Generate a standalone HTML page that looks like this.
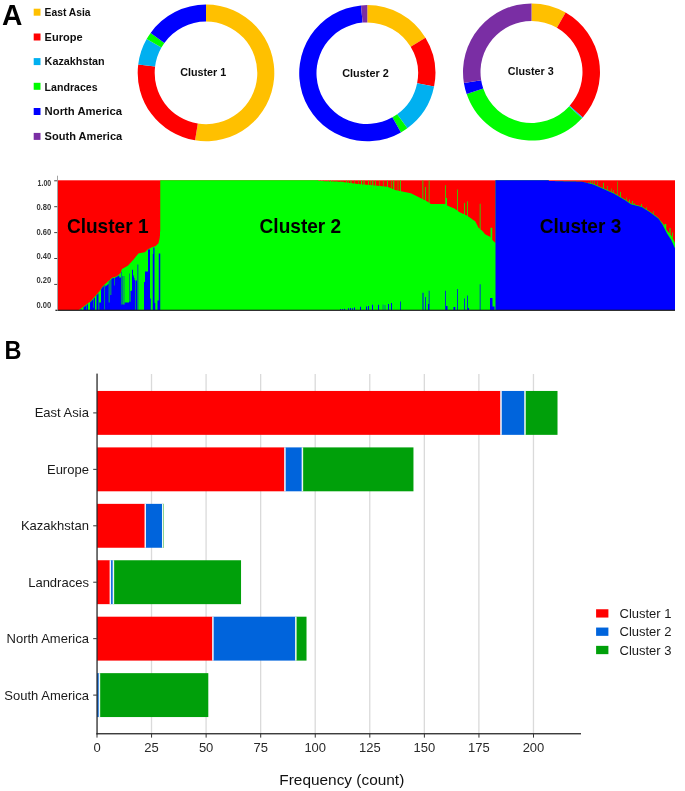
<!DOCTYPE html>
<html lang="en"><head><meta charset="utf-8"><title>Population structure clusters</title>
<style>html,body{margin:0;padding:0;background:#fff}svg{display:block}text{font-family:"Liberation Sans",sans-serif}</style></head><body>
<svg width="685" height="791" viewBox="0 0 685 791">
<rect width="685" height="791" fill="#fff"/>
<defs><filter id="b1" x="-5%" y="-5%" width="110%" height="110%"><feGaussianBlur stdDeviation="0.45"/></filter><filter id="b2" x="-5%" y="-5%" width="110%" height="110%"><feGaussianBlur stdDeviation="0.35"/></filter></defs>
<text x="2" y="24.5" font-size="30" font-weight="700" fill="#000" textLength="20.4" lengthAdjust="spacingAndGlyphs">A</text>
<text x="4.4" y="359" font-size="26" font-weight="700" fill="#000" textLength="17" lengthAdjust="spacingAndGlyphs">B</text>
<g filter="url(#b2)">
<rect x="33.7" y="8.7" width="6.8" height="7" fill="#FFC000"/>
<text x="44.6" y="16.3" font-size="11.6" font-weight="700" fill="#111" textLength="46" lengthAdjust="spacingAndGlyphs">East Asia</text>
<rect x="33.7" y="33.5" width="6.8" height="7" fill="#FF0000"/>
<text x="44.6" y="41.1" font-size="11.6" font-weight="700" fill="#111" textLength="38" lengthAdjust="spacingAndGlyphs">Europe</text>
<rect x="33.7" y="58.1" width="6.8" height="7" fill="#00B0F0"/>
<text x="44.6" y="65.3" font-size="11.6" font-weight="700" fill="#111" textLength="60" lengthAdjust="spacingAndGlyphs">Kazakhstan</text>
<rect x="33.7" y="82.8" width="6.8" height="7" fill="#00FC00"/>
<text x="44.6" y="91.1" font-size="11.6" font-weight="700" fill="#111" textLength="53" lengthAdjust="spacingAndGlyphs">Landraces</text>
<rect x="33.7" y="108.0" width="6.8" height="7" fill="#0000FF"/>
<text x="44.6" y="115.0" font-size="11.6" font-weight="700" fill="#111" textLength="77.4" lengthAdjust="spacingAndGlyphs">North America</text>
<rect x="33.7" y="132.9" width="6.8" height="7" fill="#7A2FA4"/>
<text x="44.6" y="139.5" font-size="11.6" font-weight="700" fill="#111" textLength="77.6" lengthAdjust="spacingAndGlyphs">South America</text>
</g>
<g filter="url(#b2)"><path d="M206.00 4.60A68.3 68.3 0 1 1 195.07 140.32L197.79 123.54A51.3 51.3 0 1 0 206.00 21.60Z" fill="#FFC000"/><path d="M195.07 140.32A68.3 68.3 0 0 1 138.23 64.39L155.10 66.51A51.3 51.3 0 0 0 197.79 123.54Z" fill="#FF0000"/><path d="M138.23 64.39A68.3 68.3 0 0 1 146.65 39.10L161.42 47.51A51.3 51.3 0 0 0 155.10 66.51Z" fill="#00B0F0"/><path d="M146.65 39.10A68.3 68.3 0 0 1 150.60 32.95L164.39 42.89A51.3 51.3 0 0 0 161.42 47.51Z" fill="#00FC00"/><path d="M150.60 32.95A68.3 68.3 0 0 1 206.00 4.60L206.00 21.60A51.3 51.3 0 0 0 164.39 42.89Z" fill="#0000FF"/><text x="203.2" y="75.8" font-size="11.5" font-weight="700" fill="#111" text-anchor="middle" textLength="46" lengthAdjust="spacingAndGlyphs">Cluster 1</text></g>
<g filter="url(#b2)"><path d="M367.30 5.10A68.1 68.1 0 0 1 425.47 37.79L410.69 46.78A50.8 50.8 0 0 0 367.30 22.40Z" fill="#FFC000"/><path d="M425.47 37.79A68.1 68.1 0 0 1 434.07 86.58L417.11 83.18A50.8 50.8 0 0 0 410.69 46.78Z" fill="#FF0000"/><path d="M434.07 86.58A68.1 68.1 0 0 1 407.33 128.29L397.16 114.30A50.8 50.8 0 0 0 417.11 83.18Z" fill="#00B0F0"/><path d="M407.33 128.29A68.1 68.1 0 0 1 400.94 132.41L392.39 117.37A50.8 50.8 0 0 0 397.16 114.30Z" fill="#00FC00"/><path d="M400.94 132.41A68.1 68.1 0 1 1 360.97 5.39L362.58 22.62A50.8 50.8 0 1 0 392.39 117.37Z" fill="#0000FF"/><path d="M360.97 5.39A68.1 68.1 0 0 1 367.30 5.10L367.30 22.40A50.8 50.8 0 0 0 362.58 22.62Z" fill="#7A2FA4"/><text x="365.5" y="76.9" font-size="11.5" font-weight="700" fill="#111" text-anchor="middle" textLength="46.5" lengthAdjust="spacingAndGlyphs">Cluster 2</text></g>
<g filter="url(#b2)"><path d="M531.50 3.50A68.5 68.5 0 0 1 565.65 12.62L556.92 27.79A51.0 51.0 0 0 0 531.50 21.00Z" fill="#FFC000"/><path d="M565.65 12.62A68.5 68.5 0 0 1 582.75 117.44L569.66 105.83A51.0 51.0 0 0 0 556.92 27.79Z" fill="#FF0000"/><path d="M582.75 117.44A68.5 68.5 0 0 1 581.96 118.33L569.07 106.49A51.0 51.0 0 0 0 569.66 105.83Z" fill="#00B0F0"/><path d="M581.96 118.33A68.5 68.5 0 0 1 466.67 94.12L483.23 88.47A51.0 51.0 0 0 0 569.07 106.49Z" fill="#00FC00"/><path d="M466.67 94.12A68.5 68.5 0 0 1 463.89 83.03L481.17 80.21A51.0 51.0 0 0 0 483.23 88.47Z" fill="#0000FF"/><path d="M463.89 83.03A68.5 68.5 0 0 1 531.50 3.50L531.50 21.00A51.0 51.0 0 0 0 481.17 80.21Z" fill="#7A2FA4"/><text x="530.7" y="75.3" font-size="11.5" font-weight="700" fill="#111" text-anchor="middle" textLength="46" lengthAdjust="spacingAndGlyphs">Cluster 3</text></g>
<g filter="url(#b1)">
<rect x="58" y="180.3" width="617" height="129.7" fill="#FF0000"/>
<path d="M58 310.0V310H79V309.8H79.25V309.6H79.5V309.5H79.75V309.3H80V309.1H80.25V308.9H80.5V308.7H80.75V308.5H81V308.3H81.25V308.2H81.5V308H81.75V307.8H82V307.6H82.25V307.4H82.5V307.2H82.75V307H83V306.9H83.25V306.7H83.5V306.5H83.75V306.3H84V306.1H84.25V305.9H84.5V305.7H84.75V305.6H85V305.4H85.25V305.2H85.5V305H85.75V304.8H86V304.6H86.25V304.4H86.5V304.3H86.75V304.1H87V303.9H87.25V303.7H87.5V303.5H87.75V303.3H88V303.1H88.25V303H88.5V302.8H88.75V302.6H89V302.4H89.25V302.2H89.5V302H89.75V301.8H90V301.7H90.25V301.5H90.5V301.3H90.75V301H91V300.7H91.25V300.4H91.5V300.1H91.75V299.9H92V299.6H92.25V299.3H92.5V299H92.75V298.7H93V298.5H93.25V298.2H93.5V297.9H93.75V297.6H94V297.3H94.25V297.1H94.5V296.8H94.75V296.5H95V296.2H95.25V295.9H95.5V295.6H95.75V295.4H96V295.1H96.25V294.8H96.5V294.5H96.75V294.2H97V294H97.25V293.7H97.5V293.4H97.75V293.1H98V292.8H98.25V292.6H98.5V292.3H98.75V292H99V291.7H99.25V291.4H99.5V291H99.75V290.6H100V290.2H100.25V289.8H100.5V289.4H100.75V289H101V288.6H101.25V288.2H101.5V287.8H101.75V287.4H102V287H102.25V286.6H102.5V286.4H102.75V286.2H103V285.9H103.25V285.7H103.5V285.5H103.75V285.2H104V285H104.25V284.8H104.5V284.5H104.75V284.3H105V284.1H105.25V283.8H105.5V283.6H105.75V283.4H106V283.2H106.25V282.9H106.5V282.7H106.75V282.5H107V282.2H107.25V282H107.5V281.8H107.75V281.6H108V281.3H108.25V281.1H108.5V280.9H108.75V280.6H109V280.4H109.25V280.2H109.5V280H109.75V279.7H110V279.5H110.25V279.3H110.5V279H110.75V278.8H111V278.6H111.25V278.4H111.5V278.1H111.75V277.9H112V277.7H112.25V277.6H112.5V277.5H112.75V277.4H113.25V277.3H113.5V277.2H114V277.1H114.25V277H114.75V276.9H115V276.8H115.5V276.7H115.75V276.6H116V276.5H116.25V276.4H116.5V276.2H116.75V276H117V275.9H117.25V275.7H117.5V275.6H117.75V275.4H118V275.2H118.25V275.1H118.5V274.9H118.75V274.6H119V274.4H119.25V274.1H119.5V273.9H119.75V273.6H120V273.4H120.25V273.1H120.5V272.7H120.75V272H121V271.3H121.25V270.7H121.5V270H121.75V269.3H122V268.9H122.25V268.8H122.5V268.6H122.75V268.5H123V268.4H123.25V268.2H123.5V268.1H123.75V267.9H124V267.8H124.25V267.7H124.5V267.5H124.75V267.4H125V267.2H125.25V267.1H125.5V266.9H125.75V266.8H126V266.7H126.25V266.5H126.5V266.4H126.75V266.2H127V266.1H127.25V266H127.5V265.8H127.75V265.7H128V265.5H128.25V265.2H128.5V264.9H128.75V264.6H129V264.4H129.25V264.1H129.5V263.8H129.75V263.5H130V263.3H130.25V263H130.5V262.7H130.75V262.4H131V262.2H131.25V261.9H131.5V261.6H131.75V261.3H132V261H132.25V260.8H132.5V260.5H132.75V260.2H133V259.9H133.25V259.7H133.5V259.4H133.75V259.1H134V258.8H134.25V258.5H134.5V258.2H134.75V257.9H135V257.6H135.25V257.3H135.5V256.9H135.75V256.6H136V256.3H136.25V256H136.5V255.7H136.75V255.4H137V255.1H137.25V254.8H137.5V254.5H137.75V254.2H138V253.9H138.25V253.6H138.5V253.4H138.75V253.3H139.25V253.2H139.75V253.1H140.25V253H141V252.9H141.5V252.8H142V252.7H142.5V252.6H143V252.5H143.5V252.4H144V252.3H144.75V252.2H145V252H145.25V251.7H145.5V251.5H145.75V251.3H146V251H146.25V250.8H146.5V250.5H146.75V250.3H147V250H147.25V249.8H147.5V249.6H147.75V249.3H148V249.2H148.25V249.1H148.5V248.9H148.75V248.8H149V248.7H149.25V248.5H149.5V248.4H149.75V248.3H150V248.2H150.25V248H150.5V247.9H150.75V247.8H151V247.6H151.25V247.5H151.5V247.4H151.75V247.3H152V247.2H152.5V247.1H152.75V247H153V246.9H153.25V246.8H153.5V246.7H153.75V246.6H154V246.5H154.5V246.4H154.75V246.3H155V246.2H155.25V246.1H155.5V245.9H155.75V245.7H156V245.4H156.25V245.2H156.5V245H156.75V244.8H157V244.5H157.25V244.3H157.5V244.1H157.75V243.9H158V243.6H158.25V243.4H158.5V242.5H158.75V241.4H159V240.4H159.25V239.4H159.5V238.3H159.75V236.2H160V231.4H160.25V180.3H318V180.4H318.25V180.6H318.5V180.7H318.75V180.9H319V181H320V180.6H320.75V181.1H322.75V180.6H323.5V181.2H326V181.3H328V180.6H328.5V181.3H328.75V181.4H330V180.6H331V181.4H331.25V181.5H332.5V180.6H333.25V181.5H334V181.6H336.75V180.6H337.25V181.7H339.5V181.8H340.75V180.6H341.25V181.8H341.5V181.9H342.25V182H342.75V180.6H343.25V182.1H343.75V182.2H344.5V182.3H345.25V182.4H346V182.5H346.25V180.6H347V182.6H347.5V182.7H348.25V182.8H348.5V180.6H349V182.9H350V183H350.5V180.6H351.5V183.2H352.25V183.3H353V183.4H353.75V183.5H354.5V180.6H355V183.6H355.25V183.7H356V183.8H356.75V183.9H357.5V184H358.5V180.6H359V184.1H359.75V184.2H361V180.6H362V184.4H363.25V184.5H363.5V180.6H364.5V184.6H365.5V184.7H366.75V184.8H367.75V184.9H368V180.6H368.75V184.9H369V185H370V185.1H370.25V180.6H370.75V185.1H371.25V185.2H372.25V180.6H373.25V185.3H373.5V185.4H374.5V185.5H375.25V180.6H376V185.6H376.5V185.7H377.5V185.8H378.25V185.9H379V180.6H379.5V186H380.25V186.1H381.25V186.2H382.25V186.3H383V180.6H383.5V186.4H384.25V186.5H385.25V186.6H386.25V186.7H387V180.6H387.75V186.9H388V187H388.25V187.1H388.5V187.2H388.75V187.4H389V187.5H389.25V187.6H389.5V187.7H389.75V187.8H390V187.9H390.25V188H390.5V188.1H390.75V188.2H391V188.3H391.25V180.6H391.75V188.6H392V188.8H392.25V188.9H392.5V189H392.75V189.1H393V189.2H393.25V180.6H394.25V189.7H394.5V189.8H394.75V189.9H395V190H395.25V190.1H395.75V190.2H396.25V190.3H396.75V190.4H397.25V190.5H397.75V180.6H398.25V190.7H398.75V190.8H399V190.9H399.5V191H400V191.1H400.25V180.3H401V191.3H401.5V191.4H402V191.5H402.5V191.6H403V191.7H403.5V191.8H404V191.9H404.5V192H405V192.1H405.5V192.2H406V192.3H406.5V192.4H407V192.5H407.25V192.6H407.75V192.7H408.25V192.8H408.75V192.9H409.25V193H409.75V193.1H410.25V193.2H410.75V193.3H411V193.4H411.25V193.5H411.5V193.6H411.75V193.7H412V193.9H412.25V194H412.5V194.1H412.75V194.2H413V194.4H413.25V194.5H413.5V194.6H413.75V194.7H414V194.9H414.25V195H414.5V195.1H414.75V195.2H415V195.4H415.25V195.5H415.5V195.6H415.75V195.7H416V195.9H416.25V196H416.5V196.1H416.75V196.2H417V196.4H417.25V196.5H417.5V196.6H417.75V196.7H418V196.9H418.25V197H418.5V197.1H418.75V197.2H419V197.4H419.25V197.5H419.5V197.6H419.75V197.7H420V197.9H420.25V198H420.5V198.1H420.75V198.2H421V198.4H421.25V198.5H421.5V198.6H421.75V198.7H422V198.9H422.25V199H422.5V180.3H423.25V199.5H423.5V199.6H423.75V199.7H424V199.9H424.25V200H424.5V200.1H424.75V200.2H425V186.9H425.75V200.7H426V200.9H426.25V201H426.5V201.1H426.75V201.2H427V201.4H427.25V201.6H427.5V201.7H427.75V201.9H428V202.1H428.25V202.2H428.5V202.4H428.75V180.6H429.5V203.1H429.75V203.2H430V203.4H430.25V203.6H430.5V203.7H430.75V203.9H431V204H445V204.2H445.25V185.3H446V198H447V205.5H447.25V205.6H447.5V205.8H447.75V205.9H448V206H448.25V206.1H448.5V206.2H448.75V206.3H449V206.4H449.25V206.5H449.5V206.6H449.75V206.7H450V206.8H450.25V206.9H450.5V207H450.75V207.1H451V207.2H451.25V207.3H451.5V207.4H451.75V207.5H452V207.6H452.25V207.7H452.5V207.8H452.75V207.9H453V208H453.25V208.1H453.5V208.2H453.75V208.3H454V208.4H454.25V208.5H454.5V208.7H454.75V208.8H455V209H455.25V209.2H455.5V209.4H455.75V209.6H456V209.8H456.25V209.9H456.5V210.1H456.75V210.3H457V189.6H457.75V211H458V211.2H458.25V211.4H458.5V211.6H458.75V211.8H459V211.9H459.25V212.1H459.5V212.2H459.75V212.3H460V212.4H460.25V212.6H460.5V212.7H460.75V212.8H461V212.9H461.25V213H461.5V213.1H461.75V213.3H462V213.4H462.25V213.5H462.5V213.6H462.75V213.7H463V213.8H463.25V214H463.5V214.1H463.75V214.2H464V214.3H464.25V203H465V214.8H465.25V214.9H465.5V215H465.75V215.1H466V215.2H466.25V215.4H466.5V215.5H466.75V215.6H467V215.7H467.25V201.3H468V216.4H468.25V216.6H468.5V216.7H468.75V216.9H469V217.1H469.25V217.3H469.5V217.4H469.75V217.6H470V217.8H470.25V218H470.5V218.1H470.75V218.3H471V218.5H471.25V218.7H471.5V218.8H471.75V219H472V219.2H472.25V219.4H472.5V219.5H472.75V219.7H473V219.9H473.25V220.1H473.5V220.2H473.75V220.4H474V220.6H474.25V220.8H474.5V220.9H474.75V221.1H475V221.3H475.25V221.5H475.5V222H475.75V222.5H476V223H476.25V223.5H476.5V224H476.75V224.5H477V225.1H477.25V225.6H477.5V226.1H477.75V226.6H478V227.1H478.25V227.6H478.5V227.9H478.75V228.1H479V228.3H479.25V228.5H479.5V228.7H479.75V203.7H480.5V229.5H480.75V229.7H481V229.9H481.25V230.1H481.5V230.3H481.75V230.5H482V230.7H482.25V230.9H482.5V231.2H482.75V231.5H483V231.8H483.25V232.1H483.5V232.4H483.75V232.8H484V233.1H484.25V233.4H484.5V233.7H484.75V234H485V234.3H485.25V234.4H485.5V234.5H485.75V234.6H486V234.8H486.25V234.9H486.5V235H486.75V235.2H487V235.3H487.25V235.4H487.5V235.5H487.75V235.7H488V235.8H488.25V235.9H488.5V236.1H488.75V236.2H489V236.3H489.25V236.4H489.5V236.6H489.75V236.8H490V237.1H490.25V237.4H490.5V227.8H492.25V239.9H492.5V240.2H492.75V240.5H493V240.8H493.25V241H493.5V241.3H493.75V241.5H494V241.7H494.25V242H494.5V242.2H494.75V242.4H495V242.7H495.25V242.9H495.5V180.3H548.5V180.5H548.75V180.8H549V181H551V181.1H555.25V181.2H559.5V181.3H563.5V181.4H567.75V181.5H572V181.6H576V181.7H580.25V181.8H582.5V181.9H583V182H583.25V182.1H583.75V182.2H584.25V182.3H584.5V182.4H585V182.5H585.5V182.6H585.75V182.7H586.25V182.8H586.5V182.9H587V183H587.5V183.1H587.75V183.2H588V182.5H588.25V182.6H588.75V182.7H589V182.8H589.5V182.9H590V181H590.5V183.1H590.75V183.2H591.25V183.3H591.5V183.4H592V181H592.5V183.6H592.75V183.7H593V183.8H593.25V183.9H593.5V184H593.75V184.1H594V184.2H594.25V184.3H594.5V181H595V184.6H595.25V184.7H595.5V184.9H595.75V185H596V185.1H596.25V185.2H596.5V185.3H596.75V185.4H597V181.2H597.5V185.7H597.75V185.8H598V185.9H598.25V186.1H598.5V186.2H598.75V186.3H599V186.4H599.25V186.5H599.5V186.6H599.75V186.7H600V186.8H600.25V186.9H600.5V187H600.75V187.2H601V187.3H601.25V187.4H601.5V187.5H601.75V187.6H602V187.7H602.25V187.8H602.5V187.9H602.75V188H603V182.7H603.75V188.5H604V188.6H604.25V188.7H604.5V188.8H604.75V188.9H605V189H605.25V189.1H605.5V189.3H605.75V189.4H606V189.5H606.25V189.6H606.5V189.7H606.75V189.8H607V186H607.5V190.1H607.75V190.3H608V190.4H608.25V190.5H608.5V190.6H608.75V190.7H609V190.8H609.25V190.9H609.5V191H609.75V191.2H610V191.3H610.25V191.4H610.5V191.5H610.75V191.6H611V188.5H611.5V191.9H611.75V192H612V192.2H612.25V192.3H612.5V192.4H612.75V192.5H613V192.6H613.25V192.7H613.5V190H614V193.1H614.25V193.2H614.5V193.4H614.75V193.5H615V193.7H615.25V193.8H615.5V194H615.75V194.1H616V194.3H616.25V194.4H616.5V194.5H616.75V194.7H617V181.6H617.5V195.1H617.75V195.3H618V195.4H618.25V195.6H618.5V195.7H618.75V195.9H619V196H619.25V196.2H619.5V196.3H619.75V196.5H620V192H620.75V197H621V197.2H621.25V197.3H621.5V197.5H621.75V197.6H622V197.8H622.25V197.9H622.5V198.1H622.75V198.2H623V198.4H623.25V198.5H623.5V198.7H623.75V198.8H624V199H624.25V199.1H624.5V199.3H624.75V199.4H625V199.6H625.25V199.8H625.5V199.9H625.75V200.1H626V197.5H626.5V200.6H626.75V200.8H627V201H627.25V201.1H627.5V201.3H627.75V201.5H628V201.6H628.25V201.8H628.5V202H628.75V202.1H629V199.5H629.75V202.8H630V203H630.25V203.2H630.5V203.3H630.75V203.5H631V203.6H631.25V203.7H631.5V203.8H632V201H632.75V204.1H633.25V204.2H633.5V204.3H634V204.4H634.25V204.5H634.5V203H635V204.7H635.5V204.8H636V204.9H636.25V205H636.75V205.1H637V205.2H637.5V205.3H637.75V205.4H638.25V205.5H638.75V205.6H639V205.7H639.5V205.8H639.75V205.9H640.25V206H640.5V206.1H641V204H641.75V206.5H642V206.6H642.25V206.8H642.5V206.9H642.75V207.1H643V207.3H643.25V207.4H643.5V207.6H643.75V207.7H644V207.9H644.25V208.1H644.5V208.2H644.75V208.4H645V208.5H645.25V208.7H645.5V208.8H645.75V209H646V207H646.5V209.5H646.75V209.6H647V209.8H647.25V209.9H647.5V210.1H647.75V210.3H648V210.4H648.25V210.6H648.5V210.7H648.75V210.9H649V211H649.25V211.2H649.5V211.4H649.75V211.5H650V211.7H650.25V211.9H650.5V212.1H650.75V212.3H651V212.4H651.25V212.6H651.5V212.8H651.75V213H652V213.2H652.25V213.4H652.5V213.6H652.75V213.8H653V211H653.5V214.3H653.75V214.5H654V214.7H654.25V214.9H654.5V215.1H654.75V215.3H655V215.5H655.25V215.6H655.5V215.8H655.75V216H656V216.2H656.25V216.4H656.5V216.6H656.75V216.8H657V217H657.25V217.2H657.5V217.3H657.75V217.5H658V217.7H658.25V217.9H658.5V218.2H658.75V218.5H659V218.9H659.25V219.3H659.5V219.6H659.75V220H660V220.3H660.25V220.6H660.5V220.9H660.75V221.2H661V221.5H661.25V221.8H661.5V222H661.75V222.3H662V222.6H662.25V222.9H662.5V223.2H662.75V223.5H663V223.9H663.25V224.3H663.5V224.8H663.75V225.2H664V225.6H664.25V226H664.5V224H666.25V229.4H666.5V229.8H666.75V230.3H667V230.6H667.25V230.9H667.5V231.2H667.75V231.5H668V231.8H668.25V232.1H668.5V232.4H668.75V232.7H669V233H669.25V233.3H669.5V228H670.5V234.8H670.75V235.1H671V235.4H671.25V235.8H671.5V236.3H671.75V236.7H672V232.4H672.75V238.6H673V239.1H673.25V239.5H673.5V240H673.75V240.5H674V241H674.25V241.4H674.5V241.9H674.75V242.4H675V310.0Z" fill="#00FF00"/>
<path d="M58 310.0V310H80V309.9H80.25V309.7H80.5V309.5H80.75V309.3H81V309.1H81.25V309H81.5V310H83V309.9H83.25V309.7H83.5V307.3H83.75V307.1H84V306.9H84.25V306.7H84.5V306.5H84.75V306.4H85V306.2H85.25V306H85.5V305.8H85.75V305.6H86V305.4H86.25V310H86.75V304.9H87V304.7H87.25V304.5H87.5V304.3H87.75V304.1H88V310H90V302.5H90.25V302.3H90.5V302.1H90.75V301.8H91V301.5H91.25V301.2H91.5V300.9H91.75V300.7H92V300.4H92.25V300.1H92.5V299.8H92.75V299.5H93V299.3H93.25V307.7H93.75V298.4H94V298.1H94.25V297.9H94.5V297.6H94.75V297.3H95V310H96.5V295.3H96.75V295H97V294.8H97.25V294.5H97.5V294.2H97.75V293.9H98V293.6H98.25V293.4H98.5V310H99.25V302.5H101V289.4H101.25V289H101.5V288.6H101.75V288.2H102V287.8H102.25V287.4H102.5V287.2H102.75V287H103V286.7H103.25V286.5H103.5V286.3H103.75V286H104V309.5H104.5V285.3H104.75V285.1H105V284.9H105.25V286.6H105.5V286.4H105.75V286.2H106V286H106.25V285.7H106.5V285.5H106.75V285.3H107V285H107.25V284.8H107.5V284.6H107.75V284.4H108V284.1H108.25V283.9H108.5V281.7H108.75V302.5H109.5V280.8H109.75V280.5H110V280.3H110.25V280.1H110.5V294.9H111.25V279.2H111.5V278.9H111.75V278.7H112V278.5H112.25V278.4H112.5V278.3H112.75V278.2H113.25V278.1H113.5V278H114V277.9H114.25V285.5H114.75V277.7H115V277.6H115.5V277.5H115.75V277.4H116V277.3H116.25V277.2H116.5V277H116.75V276.8H117V276.7H117.25V276.5H117.5V276.4H117.75V276.2H118V276H118.25V275.9H118.5V275.7H118.75V275.4H119V275.2H119.25V277.5H121V272.1H121.25V271.5H121.5V304.4H122.5V276H123V304.4H123.75V276H124.25V304.4H124.75V302.5H129V301.8H129.5V273.6H130V301.8H130.5V290.9H131.75V290H132V269.7H133V275H133.5V276.5H134V278H134.5V280H135V280.6H135.5V310H136V280.6H137V310H137.5V264.6H138.25V310H144V282H145V271.6H148V249.6H150V298.6H150.75V310H152.75V254H153.25V247.5H154.5V303H155.25V310H157.5V300.5H158.75V253.4H160.25V310H340V309H341V310H342V309H343V310H344V308.8H345V310H348V308.3H349V310H350V308H351V310H352V308.3H353V310H354V307.5H355V310H360V306.7H361V310H366V306.5H367V310H368V306H369V310H372V304.8H373V310H378V304.8H379V310H382.75V304.5H383.25V310H384.75V305H385.25V310H388V304H389V310H391V302.9H392V310H400.25V301.6H401V310H422.5V292.7H423.5V310H425V297H425.75V310H428V304H428.75V290.7H429.5V310H445.25V290.7H446V306H447.5V310H453.5V307H455.25V310H457V289H457.75V310H464.25V298.4H465V310H467.25V295.5H468V308H469V310H479.75V284.2H480.5V310H490V298H492.5V306.4H494.5V310H495.5V180.3H548.5V180.5H548.75V180.8H549V181H551V181.1H555.25V181.2H559.5V181.3H563.5V181.4H567.75V181.5H572V181.6H576V181.7H580.25V181.8H582.5V181.9H583V182H583.25V182.1H583.75V182.2H584.25V182.3H584.5V182.4H585V182.5H585.5V182.6H585.75V182.7H586.25V182.8H586.5V182.9H587V183H587.5V183.1H587.75V183.2H588.25V183.3H588.75V183.4H589V183.5H589.5V183.6H590V183.7H590.25V183.8H590.75V183.9H591.25V184H591.5V184.1H592V184.2H592.5V184.3H592.75V184.4H593V184.5H593.25V184.6H593.5V184.7H593.75V184.8H594V184.9H594.25V185H594.5V185.1H594.75V185.2H595V185.3H595.25V185.4H595.5V185.6H595.75V185.7H596V185.8H596.25V185.9H596.5V186H596.75V186.1H597V186.2H597.25V186.3H597.5V186.4H597.75V186.5H598V186.6H598.25V186.8H598.5V186.9H598.75V187H599V187.1H599.25V187.2H599.5V187.3H599.75V187.4H600V187.5H600.25V187.6H600.5V187.7H600.75V187.8H601V188H601.25V188.1H601.5V188.2H601.75V188.3H602V188.4H602.25V188.5H602.5V188.6H602.75V188.7H603V188.8H603.25V188.9H603.5V189.1H603.75V189.2H604V189.3H604.25V189.4H604.5V189.5H604.75V189.6H605V189.7H605.25V189.8H605.5V190H605.75V190.1H606V190.2H606.25V190.3H606.5V190.4H606.75V190.5H607V190.6H607.25V190.7H607.5V190.8H607.75V191H608V191.1H608.25V191.2H608.5V191.3H608.75V191.4H609V191.5H609.25V191.6H609.5V191.7H609.75V191.9H610V192H610.25V192.1H610.5V192.2H610.75V192.3H611V192.4H611.25V192.5H611.5V192.6H611.75V192.7H612V192.9H612.25V193H612.5V193.1H612.75V193.2H613V193.3H613.25V193.4H613.5V193.5H613.75V193.6H614V193.8H614.25V193.9H614.5V194.1H614.75V194.2H615V194.4H615.25V194.5H615.5V194.7H615.75V194.8H616V195H616.25V195.1H616.5V195.2H616.75V195.4H617V195.5H617.25V195.7H617.5V195.8H617.75V196H618V196.1H618.25V196.3H618.5V196.4H618.75V196.6H619V196.7H619.25V196.9H619.5V197H619.75V197.2H620V197.3H620.25V197.5H620.5V197.6H620.75V197.7H621V197.9H621.25V198H621.5V198.2H621.75V198.3H622V198.5H622.25V198.6H622.5V198.8H622.75V198.9H623V199.1H623.25V199.2H623.5V199.4H623.75V199.5H624V199.7H624.25V199.8H624.5V200H624.75V200.1H625V200.3H625.25V200.5H625.5V200.6H625.75V200.8H626V201H626.25V201.1H626.5V201.3H626.75V201.5H627V201.7H627.25V201.8H627.5V202H627.75V202.2H628V202.3H628.25V202.5H628.5V202.7H628.75V202.8H629V203H629.25V203.2H629.5V203.4H629.75V203.5H630V203.7H630.25V203.9H630.5V204H630.75V204.2H631V204.3H631.25V204.4H631.5V204.5H632V204.6H632.25V204.7H632.75V204.8H633.25V204.9H633.5V205H634V205.1H634.25V205.2H634.75V205.3H635V205.4H635.5V205.5H636V205.6H636.25V205.7H636.75V205.8H637V205.9H637.5V206H637.75V206.1H638.25V206.2H638.75V206.3H639V206.4H639.5V206.5H639.75V206.6H640.25V206.7H640.5V206.8H641V206.9H641.5V207H641.75V207.2H642V207.3H642.25V207.5H642.5V207.6H642.75V207.8H643V208H643.25V208.1H643.5V208.3H643.75V208.4H644V208.6H644.25V208.8H644.5V208.9H644.75V209.1H645V209.2H645.25V209.4H645.5V209.5H645.75V209.7H646V209.9H646.25V210H646.5V210.2H646.75V210.3H647V210.5H647.25V210.6H647.5V210.8H647.75V211H648V211.1H648.25V211.3H648.5V211.4H648.75V211.6H649V211.7H649.25V211.9H649.5V212.1H649.75V212.2H650V212.4H650.25V212.6H650.5V212.8H650.75V213H651V213.1H651.25V213.3H651.5V213.5H651.75V213.7H652V213.9H652.25V214.1H652.5V214.3H652.75V214.5H653V214.7H653.25V214.8H653.5V215H653.75V215.2H654V215.4H654.25V215.6H654.5V215.8H654.75V216H655V216.2H655.25V216.3H655.5V216.5H655.75V216.7H656V216.9H656.25V217.1H656.5V217.3H656.75V217.5H657V217.7H657.25V217.9H657.5V218H657.75V218.2H658V218.4H658.25V218.6H658.5V218.9H658.75V219.2H659V219.6H659.25V220H659.5V220.3H659.75V220.7H660V221.1H660.25V221.4H660.5V221.8H660.75V222.2H661V222.5H661.25V222.9H661.5V223.3H661.75V223.6H662V224H662.25V224.4H662.5V224.7H662.75V225.2H663V225.7H663.25V226.2H663.5V226.7H663.75V227.2H664V227.7H664.25V228.2H664.5V228.7H664.75V229.2H665V229.7H665.25V230.2H665.5V230.7H665.75V231.2H666V231.7H666.25V232.2H666.5V232.7H666.75V233.2H667V233.7H667.25V234.1H667.5V234.5H667.75V234.8H668V235.2H668.25V235.6H668.5V236H668.75V236.4H669V236.7H669.25V237.1H669.5V237.5H669.75V237.9H670V238.3H670.25V238.6H670.5V239H670.75V239.4H671V239.8H671.25V240.3H671.5V240.8H671.75V241.4H672V241.9H672.25V242.5H672.5V243H672.75V243.6H673V244.2H673.25V244.7H673.5V245.3H673.75V245.8H674V246.4H674.25V246.9H674.5V247.5H674.75V248H675V310.0Z" fill="#0000FF"/>
</g>
<rect x="55.4" y="309.7" width="619.6" height="1.2" fill="#1a1a1a"/>
<rect x="57" y="175.7" width="0.9" height="135" fill="#9a9a9a"/>
<rect x="54.2" y="180.3" width="3" height="1" fill="#444"/>
<rect x="54.2" y="206.2" width="3" height="1" fill="#444"/>
<rect x="54.2" y="232.1" width="3" height="1" fill="#444"/>
<rect x="54.2" y="258.0" width="3" height="1" fill="#444"/>
<rect x="54.2" y="283.9" width="3" height="1" fill="#444"/>
<text x="51.2" y="186.0" font-size="8.6" font-weight="700" fill="#3a3a3a" text-anchor="end" textLength="13.6" lengthAdjust="spacingAndGlyphs">1.00</text>
<text x="51.2" y="209.5" font-size="8.6" font-weight="700" fill="#3a3a3a" text-anchor="end" textLength="14.8" lengthAdjust="spacingAndGlyphs">0.80</text>
<text x="51.2" y="234.6" font-size="8.6" font-weight="700" fill="#3a3a3a" text-anchor="end" textLength="14.8" lengthAdjust="spacingAndGlyphs">0.60</text>
<text x="51.2" y="258.9" font-size="8.6" font-weight="700" fill="#3a3a3a" text-anchor="end" textLength="14.8" lengthAdjust="spacingAndGlyphs">0.40</text>
<text x="51.2" y="282.9" font-size="8.6" font-weight="700" fill="#3a3a3a" text-anchor="end" textLength="14.8" lengthAdjust="spacingAndGlyphs">0.20</text>
<text x="51.2" y="307.6" font-size="8.6" font-weight="700" fill="#3a3a3a" text-anchor="end" textLength="14.8" lengthAdjust="spacingAndGlyphs">0.00</text>
<g filter="url(#b2)">
<text x="66.9" y="233.1" font-size="20.2" font-weight="700" fill="#000" textLength="81.6" lengthAdjust="spacingAndGlyphs">Cluster 1</text>
<text x="259.6" y="233.1" font-size="20.2" font-weight="700" fill="#000" textLength="81.6" lengthAdjust="spacingAndGlyphs">Cluster 2</text>
<text x="539.7" y="233.1" font-size="20.2" font-weight="700" fill="#000" textLength="81.6" lengthAdjust="spacingAndGlyphs">Cluster 3</text>
</g>
<rect x="150.86" y="374" width="1.3" height="359.5" fill="#dadada"/>
<rect x="205.43" y="374" width="1.3" height="359.5" fill="#dadada"/>
<rect x="259.99" y="374" width="1.3" height="359.5" fill="#dadada"/>
<rect x="314.55" y="374" width="1.3" height="359.5" fill="#dadada"/>
<rect x="369.11" y="374" width="1.3" height="359.5" fill="#dadada"/>
<rect x="423.68" y="374" width="1.3" height="359.5" fill="#dadada"/>
<rect x="478.24" y="374" width="1.3" height="359.5" fill="#dadada"/>
<rect x="532.80" y="374" width="1.3" height="359.5" fill="#dadada"/>
<rect x="97.00" y="390.95" width="403.76" height="43.9" fill="#FF0000"/>
<rect x="500.76" y="390.95" width="24.01" height="43.9" fill="#0064DC"/>
<rect x="524.77" y="390.95" width="32.74" height="43.9" fill="#00A00A"/>
<rect x="500.26" y="390.95" width="1.5" height="43.9" fill="#fff" fill-opacity="0.92"/>
<rect x="524.27" y="390.95" width="1.5" height="43.9" fill="#fff" fill-opacity="0.92"/>
<rect x="93.2" y="412.40" width="3.6" height="1" fill="#333"/>
<text x="88.9" y="417.40" font-size="13" fill="#1a1a1a" text-anchor="end">East Asia</text>
<rect x="97.00" y="447.40" width="187.70" height="43.9" fill="#FF0000"/>
<rect x="284.70" y="447.40" width="17.46" height="43.9" fill="#0064DC"/>
<rect x="302.15" y="447.40" width="111.31" height="43.9" fill="#00A00A"/>
<rect x="284.20" y="447.40" width="1.5" height="43.9" fill="#fff" fill-opacity="0.92"/>
<rect x="301.65" y="447.40" width="1.5" height="43.9" fill="#fff" fill-opacity="0.92"/>
<rect x="93.2" y="468.85" width="3.6" height="1" fill="#333"/>
<text x="88.9" y="473.85" font-size="13" fill="#1a1a1a" text-anchor="end">Europe</text>
<rect x="97.00" y="503.85" width="48.01" height="43.9" fill="#FF0000"/>
<rect x="145.01" y="503.85" width="17.46" height="43.9" fill="#0064DC"/>
<rect x="162.48" y="503.85" width="1.31" height="43.9" fill="#00A00A"/>
<rect x="144.51" y="503.85" width="1.5" height="43.9" fill="#fff" fill-opacity="0.92"/>
<rect x="161.98" y="503.85" width="1.5" height="43.9" fill="#fff" fill-opacity="0.92"/>
<rect x="93.2" y="525.30" width="3.6" height="1" fill="#333"/>
<text x="88.9" y="530.30" font-size="13" fill="#1a1a1a" text-anchor="end">Kazakhstan</text>
<rect x="97.00" y="560.25" width="13.09" height="43.9" fill="#FF0000"/>
<rect x="110.09" y="560.25" width="3.06" height="43.9" fill="#0064DC"/>
<rect x="113.15" y="560.25" width="127.89" height="43.9" fill="#00A00A"/>
<rect x="109.59" y="560.25" width="1.5" height="43.9" fill="#fff" fill-opacity="0.92"/>
<rect x="112.65" y="560.25" width="1.5" height="43.9" fill="#fff" fill-opacity="0.92"/>
<rect x="93.2" y="581.70" width="3.6" height="1" fill="#333"/>
<text x="88.9" y="586.70" font-size="13" fill="#1a1a1a" text-anchor="end">Landraces</text>
<rect x="97.00" y="616.70" width="115.67" height="43.9" fill="#FF0000"/>
<rect x="212.67" y="616.70" width="82.94" height="43.9" fill="#0064DC"/>
<rect x="295.61" y="616.70" width="10.91" height="43.9" fill="#00A00A"/>
<rect x="212.17" y="616.70" width="1.5" height="43.9" fill="#fff" fill-opacity="0.92"/>
<rect x="295.11" y="616.70" width="1.5" height="43.9" fill="#fff" fill-opacity="0.92"/>
<rect x="93.2" y="638.15" width="3.6" height="1" fill="#333"/>
<text x="88.9" y="643.15" font-size="13" fill="#1a1a1a" text-anchor="end">North America</text>
<rect x="97.00" y="673.15" width="2.18" height="43.9" fill="#0064DC"/>
<rect x="99.18" y="673.15" width="109.12" height="43.9" fill="#00A00A"/>
<rect x="98.68" y="673.15" width="1.5" height="43.9" fill="#fff" fill-opacity="0.92"/>
<rect x="93.2" y="694.60" width="3.6" height="1" fill="#333"/>
<text x="88.9" y="699.60" font-size="13" fill="#1a1a1a" text-anchor="end">South America</text>
<rect x="96.4" y="373.6" width="1.3" height="360.8" fill="#2a2a2a"/>
<rect x="96.4" y="733.1" width="484.6" height="1.3" fill="#2a2a2a"/>
<rect x="96.50" y="733.7" width="1" height="3.9" fill="#333"/>
<text x="97.00" y="751.5" font-size="13" fill="#2a2a2a" text-anchor="middle">0</text>
<rect x="151.06" y="733.7" width="1" height="3.9" fill="#333"/>
<text x="151.56" y="751.5" font-size="13" fill="#2a2a2a" text-anchor="middle">25</text>
<rect x="205.62" y="733.7" width="1" height="3.9" fill="#333"/>
<text x="206.12" y="751.5" font-size="13" fill="#2a2a2a" text-anchor="middle">50</text>
<rect x="260.19" y="733.7" width="1" height="3.9" fill="#333"/>
<text x="260.69" y="751.5" font-size="13" fill="#2a2a2a" text-anchor="middle">75</text>
<rect x="314.75" y="733.7" width="1" height="3.9" fill="#333"/>
<text x="315.25" y="751.5" font-size="13" fill="#2a2a2a" text-anchor="middle">100</text>
<rect x="369.31" y="733.7" width="1" height="3.9" fill="#333"/>
<text x="369.81" y="751.5" font-size="13" fill="#2a2a2a" text-anchor="middle">125</text>
<rect x="423.88" y="733.7" width="1" height="3.9" fill="#333"/>
<text x="424.38" y="751.5" font-size="13" fill="#2a2a2a" text-anchor="middle">150</text>
<rect x="478.44" y="733.7" width="1" height="3.9" fill="#333"/>
<text x="478.94" y="751.5" font-size="13" fill="#2a2a2a" text-anchor="middle">175</text>
<rect x="533.00" y="733.7" width="1" height="3.9" fill="#333"/>
<text x="533.50" y="751.5" font-size="13" fill="#2a2a2a" text-anchor="middle">200</text>
<text x="279.3" y="785.2" font-size="15" fill="#111" textLength="125" lengthAdjust="spacingAndGlyphs">Frequency (count)</text>
<rect x="596.1" y="609.25" width="12.3" height="8.3" fill="#FF0000"/>
<text x="619.5" y="618.00" font-size="13" fill="#1a1a1a">Cluster 1</text>
<rect x="596.1" y="627.55" width="12.3" height="8.3" fill="#0064DC"/>
<text x="619.5" y="636.30" font-size="13" fill="#1a1a1a">Cluster 2</text>
<rect x="596.1" y="645.85" width="12.3" height="8.3" fill="#00A00A"/>
<text x="619.5" y="654.60" font-size="13" fill="#1a1a1a">Cluster 3</text>
</svg></body></html>
